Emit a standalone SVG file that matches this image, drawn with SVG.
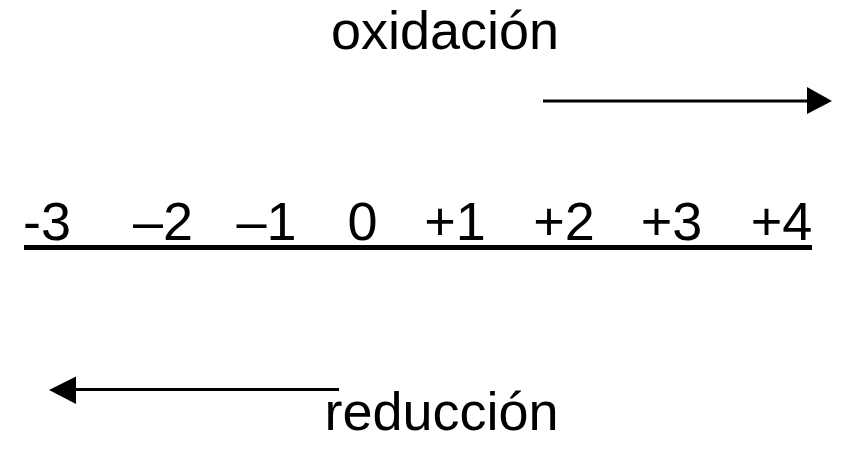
<svg xmlns="http://www.w3.org/2000/svg" width="858" height="456" viewBox="0 0 858 456">
<style>
text{font-family:"Liberation Sans",Arial,sans-serif;font-size:54px;fill:#000;text-anchor:middle}
.ln{stroke:#000;stroke-width:3.2;fill:none}
</style>
<rect width="858" height="456" fill="#fff"/>
<g id="label-oxidacion"><text x="445" y="49">oxidación</text></g>
<g id="number-line">
<text x="47" y="240">-3</text>
<text x="163" y="240">–2</text>
<text x="266.5" y="240">–1</text>
<text x="362.5" y="240">0</text>
<text x="455" y="240">+1</text>
<text x="564" y="240">+2</text>
<text x="671.5" y="240">+3</text>
<text x="781.5" y="240">+4</text>
<rect x="24" y="245" width="788" height="5" fill="#000"/>
</g>
<g id="label-reduccion"><text x="441.5" y="430">reducción</text></g>
<g id="connectors">
<line class="ln" x1="543" y1="101" x2="808" y2="101"/>
<polygon points="807,87 832,101 807,114" fill="#000"/>
<line class="ln" x1="75" y1="389.5" x2="339" y2="389.5"/>
<polygon points="49,390 76,376.5 76,404" fill="#000"/>
</g>
</svg>
